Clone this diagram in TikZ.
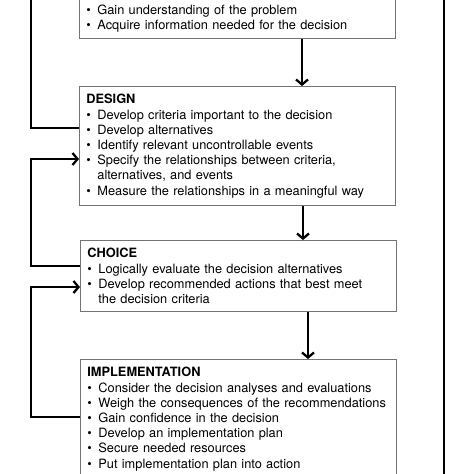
\documentclass[tikz,border=0pt]{standalone}
\usepackage{fontspec}
\setmainfont{TeX Gyre Heros}
\usetikzlibrary{arrows.meta}

\newcommand{\itm}[1]{\par\hangindent=11pt\hangafter=1\noindent\makebox[11pt][l]{\textbullet}#1\par}

\tikzset{
  stagebox/.style={draw=black!55, line width=0.8pt, anchor=north west, align=left,
    text width=302pt, inner xsep=7pt, inner ysep=8pt,
    font=\fontsize{12.8}{15.2}\selectfont},
  line/.style={line width=2.3pt, black},
  arr/.style={line, -{Straight Barb[length=5pt,width=12pt]}}
}

\begin{document}
\begin{tikzpicture}[x=1pt, y=-1pt]

\useasboundingbox (0,0) rectangle (474,474);
\clip (0,0) rectangle (474,474);

% Stage boxes
\path
(79,39) node[stagebox, anchor=south west, inner ysep=6pt] (intel) {\vspace*{20pt}%
  \itm{Gain understanding of the problem}
  \itm{Acquire information needed for the decision}}
(79,86) node[stagebox] (design) {\textbf{DESIGN}
  \itm{Develop criteria important to the decision}
  \itm{Develop alternatives}
  \itm{Identify relevant uncontrollable events}
  \itm{Specify the relationships between criteria,\newline alternatives, and events}
  \itm{Measure the relationships in a meaningful way}}
(80,240) node[stagebox] (choice) {\textbf{CHOICE}
  \itm{Logically evaluate the decision alternatives}
  \itm{Develop recommended actions that best meet\newline the decision criteria}}
(80,359) node[stagebox] (impl) {\textbf{IMPLEMENTATION}
  \itm{Consider the decision analyses and evaluations}
  \itm{Weigh the consequences of the recommendations}
  \itm{Gain confidence in the decision}
  \itm{Develop an implementation plan}
  \itm{Secure needed resources}
  \itm{Put implementation plan into action}\vspace*{20pt}};

% free ends off the picture
\coordinate (railtop) at (31,-10);
\coordinate (backtop) at (444,-10);
\coordinate (backbot) at (444,484);

% Forward arrows
\draw[arr] ([xshift=223pt]intel.south west) -- ([xshift=223pt]design.north west);
\draw[arr] ([xshift=224pt]design.south west) -- ([xshift=224pt]design.south west |- choice.north);
\draw[arr] ([xshift=228pt]choice.south west) -- ([xshift=228pt]choice.south west |- impl.north);

% Feedback loops
\draw[line] ([yshift=-42pt]design.north west) -| (railtop);
\draw[arr] ([yshift=-26pt]choice.north west) -- ++(-49,0) |- ([yshift=-73pt]design.north west);
\draw[arr] ([yshift=-58pt]impl.north west) -- ++(-49,0) |- ([yshift=-47pt]choice.north west);

% Right return line
\draw[line] (backtop) -- (backbot);

\end{tikzpicture}
\end{document}
